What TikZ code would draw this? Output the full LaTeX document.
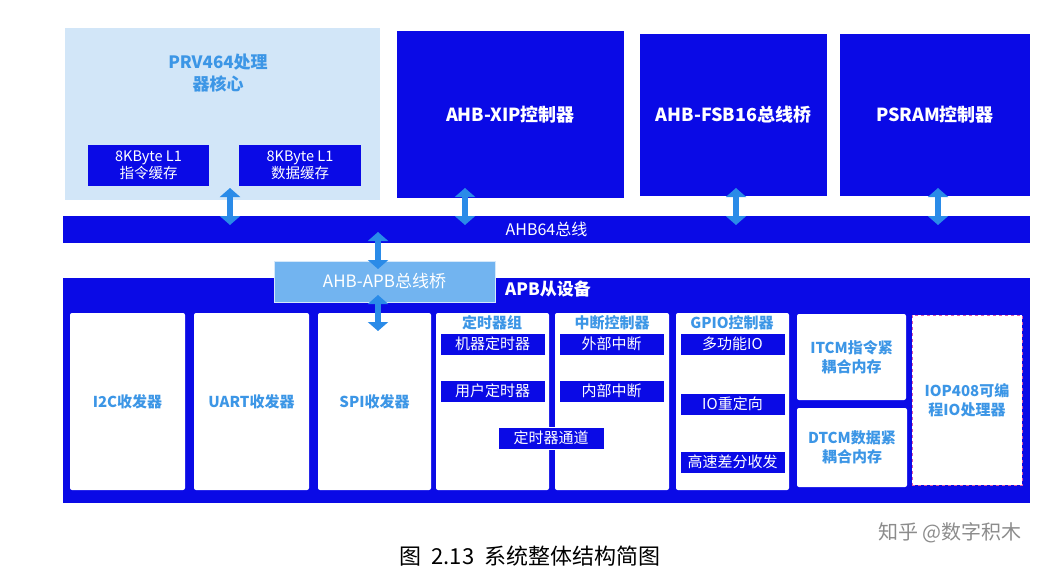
\documentclass[tikz,border=0pt]{standalone}
\usepackage{fontspec}
\setmainfont{Liberation Serif}
\newfontfamily\cjk{Noto Sans CJK SC}
\usetikzlibrary{arrows.meta}
\definecolor{db}{HTML}{0A0AE6}
\definecolor{lb}{HTML}{D2E6F8}
\definecolor{tb}{HTML}{3C96E6}
\definecolor{ab}{HTML}{2A8BE8}
\definecolor{br}{HTML}{72B4F0}
\tikzset{
 dbox/.style={fill=db,draw=none,text=white,inner sep=0},
 wbox/.style={fill=white,draw=none,rounded corners=2pt,inner sep=0},
 sub/.style={fill=db,draw=white,line width=0.6pt,text=white,inner sep=0,font=\cjk\fontsize{15}{17}\selectfont},
 ttl/.style={text=tb,font=\cjk\bfseries\fontsize{15}{19}\selectfont,align=center},
 dar/.style={{Triangle[width=20pt,length=9pt]}-{Triangle[width=20pt,length=9pt]},line width=6pt,draw=ab}
}
\begin{document}
\begin{tikzpicture}[x=1pt,y=-1pt]
\useasboundingbox (0,0) rectangle (1050,576);
% top
\node[fill=lb,minimum width=315pt,minimum height=172pt,inner sep=0] (prv) at (222.5,114) {};
\node[text=tb,font=\cjk\bfseries\fontsize{17}{22}\selectfont,align=center] (prvt) at (218,73) {PRV464处理\\器核心};
\node[dbox,minimum width=121pt,minimum height=41pt,align=center,font=\cjk\fontsize{14.5}{17}\selectfont] (ic) at (148.5,165.5) {8KByte L1\\指令缓存};
\node[dbox,minimum width=122pt,minimum height=41pt,align=center,font=\cjk\fontsize{14.5}{17}\selectfont] (dc) at (300,165.5) {8KByte L1\\数据缓存};
\node[dbox,minimum width=227pt,minimum height=167pt,font=\cjk\bfseries\fontsize{18}{20}\selectfont] (xip) at (510.5,114.5) {AHB-XIP控制器};
\node[dbox,minimum width=187pt,minimum height=162pt,font=\cjk\bfseries\fontsize{18}{20}\selectfont] (fsb) at (733.5,115) {AHB-FSB16总线桥};
\node[dbox,minimum width=190pt,minimum height=162pt,font=\cjk\bfseries\fontsize{18}{20}\selectfont] (ps) at (935,115) {PSRAM控制器};
\node[dbox,minimum width=967pt,minimum height=27pt,font=\cjk\fontsize{16}{18}\selectfont] (bus) at (546.5,229.5) {AHB64总线};
% APB
\node[dbox,minimum width=967pt,minimum height=225pt] (apb) at (546.5,390.5) {};
\node[text=white,font=\cjk\bfseries\fontsize{17}{20}\selectfont] (apbt) at (548,289) {APB从设备};
\node[fill=br,draw=white!70!br,minimum width=221pt,minimum height=41pt,inner sep=0,text=white,font=\cjk\fontsize{17}{20}\selectfont] (brg) at (384.5,281.5) {AHB-APB总线桥};
\node[wbox,minimum width=115pt,minimum height=177pt] (i2c) at (127.5,401.5) {};
\node[ttl] at (i2c) {I2C收发器};
\node[wbox,minimum width=115pt,minimum height=177pt] (uart) at (251.5,401.5) {};
\node[ttl] at (uart) {UART收发器};
\node[wbox,minimum width=113pt,minimum height=177pt] (spi) at (374.5,401.5) {};
\node[ttl] at (spi) {SPI收发器};
\node[wbox,minimum width=113pt,minimum height=177pt] (tim) at (492.5,401.5) {};
\node[ttl] at (492,323) {定时器组};
\node[wbox,minimum width=114pt,minimum height=177pt] (irq) at (612,401.5) {};
\node[ttl] at (612,323) {中断控制器};
\node[wbox,minimum width=113pt,minimum height=177pt] (gpio) at (732.5,401.5) {};
\node[ttl] at (732,323) {GPIO控制器};
\node[wbox,minimum width=109pt,minimum height=86pt] (itcm) at (851.5,357) {};
\node[ttl] at (itcm) {ITCM指令紧\\耦合内存};
\node[wbox,minimum width=110pt,minimum height=79pt] (dtcm) at (852,447.5) {};
\node[ttl] at (dtcm) {DTCM数据紧\\耦合内存};
\node[wbox,rounded corners=0,draw={rgb,255:red,220;green,90;blue,170},dashed,minimum width=110pt,minimum height=170pt] (iop) at (967,400) {};
\node[ttl] at (iop) {IOP408可编\\程IO处理器};
% sub boxes
\node[sub,minimum width=105pt,minimum height=22pt] (t1) at (492.5,344) {机器定时器};
\node[sub,minimum width=105pt,minimum height=22pt] (t2) at (492.5,391) {用户定时器};
\node[sub,minimum width=106pt,minimum height=22pt] (t3) at (551,438) {定时器通道};
\node[sub,minimum width=105pt,minimum height=22pt] (e1) at (611.5,344) {外部中断};
\node[sub,minimum width=105pt,minimum height=22pt] (e2) at (611.5,391) {内部中断};
\node[sub,minimum width=105pt,minimum height=22pt] (g1) at (732.5,344) {多功能IO};
\node[sub,minimum width=105pt,minimum height=22pt] (g2) at (732.5,404) {IO重定向};
\node[sub,minimum width=105pt,minimum height=22pt] (g3) at (732.5,462) {高速差分收发};
% arrows
\coordinate (a1) at (230,188); \coordinate (b1) at (230,225);
\coordinate (a2) at (465,188); \coordinate (b2) at (465,225);
\coordinate (a3) at (736,188); \coordinate (b3) at (736,225);
\coordinate (a4) at (938,188); \coordinate (b4) at (938,225);
\coordinate (a5) at (378,232); \coordinate (b5) at (378,269);
\coordinate (a6) at (378,295); \coordinate (b6) at (378,331);
\foreach \i in {1,...,6} \draw[dar] (a\i) -- (b\i);
% caption
\node[font=\cjk\fontsize{22}{26}\selectfont] (cap) at (530,556) {图\ \ 2.13\ \ 系统整体结构简图};
\node[text=black!45,font=\cjk\fontsize{20}{24}\selectfont] (wm) at (950,533) {知乎\ @数字积木};
\end{tikzpicture}
\end{document}
